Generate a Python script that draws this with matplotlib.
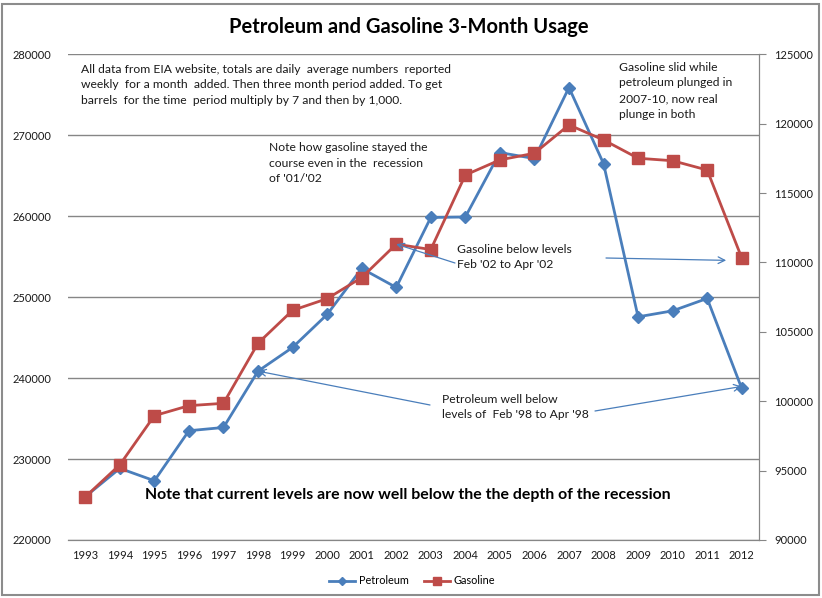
import matplotlib.pyplot as plt
from matplotlib.patches import Rectangle

years = [1993, 1994, 1995, 1996, 1997, 1998, 1999, 2000, 2001, 2002,
         2003, 2004, 2005, 2006, 2007, 2008, 2009, 2010, 2011, 2012]
petroleum = [225350, 228850, 227320, 233500, 233900, 240860, 243790, 247860, 253540, 251200,
             259840, 259900, 267860, 267120, 275890, 266500, 247570, 248310, 249840, 238730]
gasoline = [93110, 95420, 98960, 99680, 99850, 104180, 106550, 107390, 108910, 111320,
            110930, 116300, 117390, 117870, 119910, 118830, 117510, 117330, 116660, 110330]

left_ticks = [220000, 230000, 240000, 250000, 260000, 270000, 280000]
right_ticks = [90000, 95000, 100000, 105000, 110000, 115000, 120000, 125000]

plt.rcParams['font.family'] = ['Lato', 'DejaVu Sans']

blue = '#4A7EBB'
red = '#BE4B48'
grid_c = '#868686'
txt_c = '#1a1a1a'

W, H = 822, 598
fig = plt.figure(figsize=(W / 100, H / 100), dpi=100)
ax = fig.add_axes([68 / W, 1 - 540 / H, (759 - 68) / W, (540 - 54.3) / H])
ax2 = ax.twinx()

x = list(range(len(years)))
ax.plot(x, petroleum, color=blue, lw=2.0, marker='D', ms=6, mec=blue, mfc=blue,
        label='Petroleum', zorder=3)
ax2.plot(x, gasoline, color=red, lw=2.0, marker='s', ms=8, mec=red, mfc=red,
         label='Gasoline', zorder=3)

ax.set_xlim(-0.5, len(years) - 0.5)
ax.set_ylim(220000, 280000)
ax2.set_ylim(90000, 125000)
ax.set_yticks(left_ticks)
ax.set_yticklabels([str(v) for v in left_ticks])
ax2.set_yticks(right_ticks)
ax2.set_yticklabels([str(v) for v in right_ticks])
ax.set_xticks(x)
ax.set_xticklabels([str(y) for y in years])

ax.grid(axis='y', color=grid_c, lw=1)
ax.set_axisbelow(True)
for a in (ax, ax2):
    for s in ('top', 'left'):
        a.spines[s].set_visible(False)
    a.spines['bottom'].set_color(grid_c)
    a.spines['right'].set_color(grid_c)
ax.tick_params(axis='y', length=0, pad=12, labelsize=8, labelcolor=txt_c)
ax.tick_params(axis='x', length=0, pad=7, labelsize=8, labelcolor=txt_c)
ax2.tick_params(axis='y', length=5, color=grid_c, pad=6, labelsize=8, labelcolor=txt_c)

fig.text(409 / W, 1 - 27 / H, 'Petroleum and Gasoline 3-Month Usage', ha='center', va='center',
         fontsize=14.5, fontweight='bold', color='black')

fs = 8.7
ls = 1.5
fig.text(81 / W, 1 - 64 / H,
         'All data from EIA website, totals are daily  average numbers  reported\n'
         'weekly  for a month  added. Then three month period added. To get\n'
         'barrels  for the time  period multiply by 7 and then by 1,000.',
         ha='left', va='top', fontsize=fs, linespacing=ls, color=txt_c)
fig.text(269 / W, 1 - 142 / H,
         "Note how gasoline stayed the\ncourse even in the  recession\nof '01/'02",
         ha='left', va='top', fontsize=fs, linespacing=ls, color=txt_c)
fig.text(619 / W, 1 - 62 / H,
         'Gasoline slid while\npetroleum plunged in\n2007-10, now real\nplunge in both',
         ha='left', va='top', fontsize=fs, linespacing=ls, color=txt_c)
fig.text(457 / W, 1 - 244 / H, "Gasoline below levels\nFeb '02 to Apr '02",
         ha='left', va='top', fontsize=fs, linespacing=ls, color=txt_c)
fig.text(442 / W, 1 - 394 / H, "Petroleum well below\nlevels of  Feb '98 to Apr '98",
         ha='left', va='top', fontsize=fs, linespacing=ls, color=txt_c)
fig.text(408 / W, 1 - 495 / H,
         'Note that current levels are now well below the the depth of the recession',
         ha='center', va='center', fontsize=11.4, fontweight='bold', color='black')

arrow = dict(arrowstyle='->', color=blue, lw=0.9, shrinkA=0, shrinkB=0, mutation_scale=12)
# gasoline 2002 -> note
ax2.annotate('', xy=(x[9], gasoline[9]), xycoords='data',
             xytext=(455 / W, 1 - 263 / H), textcoords='figure fraction', arrowprops=arrow)
# gasoline below levels -> 2012
ax2.annotate('', xy=(x[19] - 0.45, gasoline[9] * 0.9895), xycoords='data',
             xytext=(606 / W, 1 - 258 / H), textcoords='figure fraction', arrowprops=arrow)
# petroleum 1998
ax.annotate('', xy=(x[5], petroleum[5]), xycoords='data',
            xytext=(430 / W, 1 - 405 / H), textcoords='figure fraction', arrowprops=arrow)
ax.annotate('', xy=(x[19], petroleum[19] + 240), xycoords='data',
            xytext=(595 / W, 1 - 411 / H), textcoords='figure fraction', arrowprops=arrow)

h1, l1 = ax.get_legend_handles_labels()
h2, l2 = ax2.get_legend_handles_labels()
fig.legend(h1 + h2, l1 + l2, loc='center', bbox_to_anchor=(412 / W, 1 - 581 / H), ncol=2,
           frameon=False, fontsize=7.8, handlelength=2.4, columnspacing=1.4,
           handletextpad=0.3, markerscale=0.75)

fig.patches.append(Rectangle((2 / W, 1 - 595 / H), 817 / W, 591 / H, transform=fig.transFigure,
                             fill=False, edgecolor='#8c8c8c', lw=1.5))

fig.savefig('out.png', dpi=100)
